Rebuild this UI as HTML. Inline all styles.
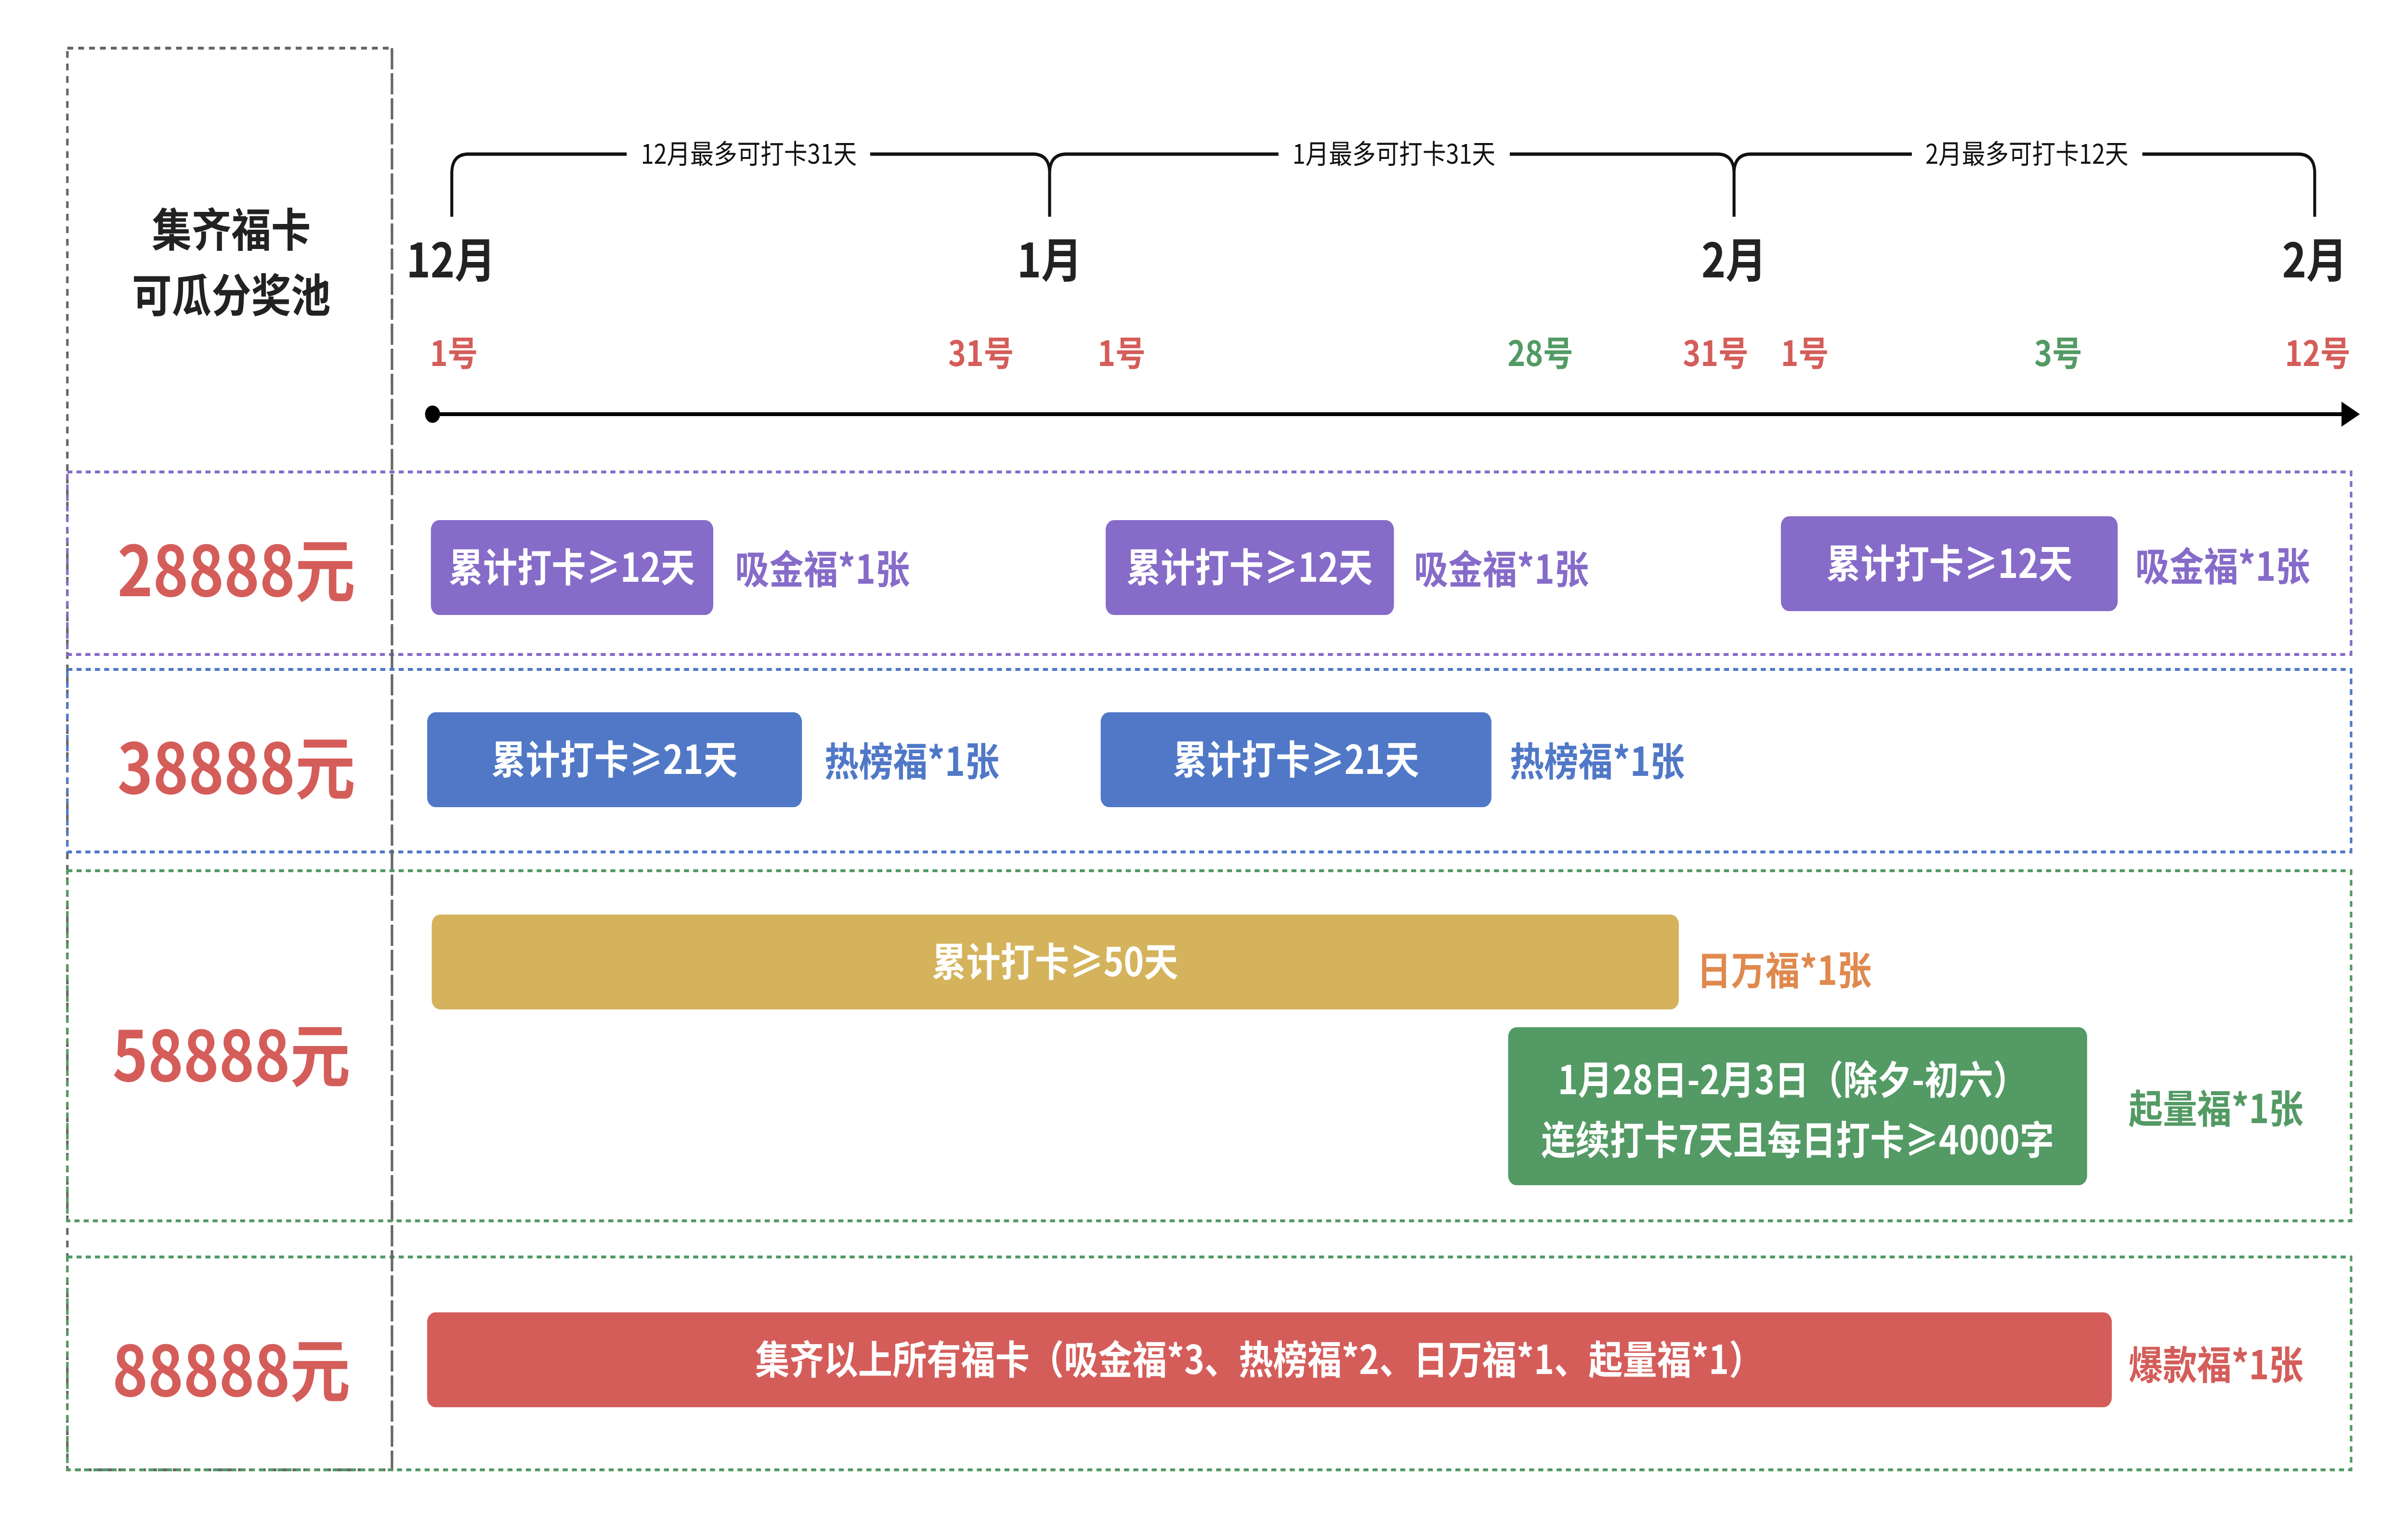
<!DOCTYPE html>
<html><head><meta charset="utf-8"><style>
html,body{margin:0;padding:0;background:#fff;width:100%;height:100%;overflow:hidden;}
svg{display:block;width:100vw;height:100vh;}
text{font-family:"Noto Sans CJK SC","Liberation Sans",sans-serif;}
.b{font-weight:bold;}
</style></head><body>
<svg viewBox="0 0 5756 3152" preserveAspectRatio="none" xmlns="http://www.w3.org/2000/svg">
<rect width="5756" height="3152" fill="#fff"/>
<rect x="161" y="100" width="776" height="2952" fill="none" stroke="#666" stroke-width="6" stroke-dasharray="14 12"/>
<rect x="161" y="980" width="5459" height="379" fill="none" stroke="#866bc9" stroke-width="6" stroke-dasharray="12 10"/>
<rect x="161" y="1390" width="5459" height="379" fill="none" stroke="#5078c7" stroke-width="6" stroke-dasharray="12 10"/>
<rect x="161" y="1808" width="5459" height="727" fill="none" stroke="#539a64" stroke-width="6" stroke-dasharray="12 10"/>
<rect x="161" y="2610" width="5459" height="442" fill="none" stroke="#539a64" stroke-width="6" stroke-dasharray="12 10"/>
<line x1="937" y1="100" x2="937" y2="3052" stroke="#666" stroke-width="6" stroke-dasharray="30 22"/>

<text x="553" y="512" class="b" font-size="95" fill="#222" text-anchor="middle">集齐福卡</text>
<text x="553" y="648" class="b" font-size="95" fill="#222" text-anchor="middle">可瓜分奖池</text>

<g fill="none" stroke="#111" stroke-width="7">
<path d="M1080 450 V360 Q1080 320 1120 320 H1498"/>
<path d="M2080 320 H2469 Q2509 320 2509 360 V450"/>
<path d="M2509 450 V360 Q2509 320 2549 320 H3056"/>
<path d="M3609 320 H4105 Q4145 320 4145 360 V450"/>
<path d="M4145 450 V360 Q4145 320 4185 320 H4570"/>
<path d="M5121 320 H5493 Q5533 320 5533 360 V450"/>
</g>
<text x="1790" y="340" font-size="56" fill="#111" text-anchor="middle">12月最多可打卡31天</text>
<text x="3332" y="340" font-size="56" fill="#111" text-anchor="middle">1月最多可打卡31天</text>
<text x="4845" y="340" font-size="56" fill="#111" text-anchor="middle">2月最多可打卡12天</text>

<g class="b" font-size="98" fill="#222" text-anchor="middle">
<text x="1078" y="576">12月</text>
<text x="2509" y="576">1月</text>
<text x="4145" y="576">2月</text>
<text x="5533" y="576">2月</text>
</g>
<g class="b" font-size="72" text-anchor="middle">
<text x="1085" y="760" fill="#d45d5a">1号</text>
<text x="2345" y="760" fill="#d45d5a">31号</text>
<text x="2681" y="760" fill="#d45d5a">1号</text>
<text x="3682" y="760" fill="#539a64">28号</text>
<text x="4101" y="760" fill="#d45d5a">31号</text>
<text x="4314" y="760" fill="#d45d5a">1号</text>
<text x="4920" y="760" fill="#539a64">3号</text>
<text x="5540" y="760" fill="#d45d5a">12号</text>
</g>
<line x1="1030" y1="860" x2="5600" y2="860" stroke="#000" stroke-width="8"/>
<circle cx="1034" cy="860" r="18" fill="#000"/>
<polygon points="5597,834 5641,860 5597,886" fill="#000"/>

<g class="b" font-size="144" fill="#d45d5a" text-anchor="middle">
<text x="565" y="1238">28888元</text>
<text x="565" y="1648">38888元</text>
<text x="553" y="2245">58888元</text>
<text x="553" y="2899">88888元</text>
</g>

<g fill="#866bc9">
<rect x="1030" y="1080" width="675" height="197" rx="20"/>
<rect x="2643" y="1080" width="689" height="197" rx="20"/>
<rect x="4257" y="1072" width="805" height="197" rx="20"/>
</g>
<g class="b" font-size="82" fill="#fff" text-anchor="middle">
<text x="1367" y="1208">累计打卡≥12天</text>
<text x="2987" y="1208">累计打卡≥12天</text>
<text x="4660" y="1200">累计打卡≥12天</text>
</g>
<g class="b" font-size="82" fill="#866bc9">
<text x="1757" y="1212">吸金福*1张</text>
<text x="3380" y="1212">吸金福*1张</text>
<text x="5104" y="1206">吸金福*1张</text>
</g>
<g fill="#5078c7">
<rect x="1021" y="1479" width="896" height="197" rx="20"/>
<rect x="2631" y="1479" width="934" height="197" rx="20"/>
</g>
<g class="b" font-size="82" fill="#fff" text-anchor="middle">
<text x="1469" y="1607">累计打卡≥21天</text>
<text x="3098" y="1607">累计打卡≥21天</text>
</g>
<g class="b" font-size="82" fill="#5078c7">
<text x="1971" y="1611">热榜福*1张</text>
<text x="3609" y="1611">热榜福*1张</text>
</g>
<rect x="1032" y="1899" width="2981" height="197" rx="20" fill="#d4b35c"/>
<text x="2522" y="2027" class="b" font-size="82" fill="#fff" text-anchor="middle">累计打卡≥50天</text>
<text x="4056" y="2045" class="b" font-size="82" fill="#e0894e">日万福*1张</text>
<rect x="3605" y="2133" width="1384" height="328" rx="20" fill="#539a64"/>
<text x="4285" y="2272" class="b" font-size="82" fill="#fff" text-anchor="middle">1月28日-2月3日（除夕-初六）</text>
<text x="4297" y="2397" class="b" font-size="82" fill="#fff" text-anchor="middle">连续打卡7天且每日打卡≥4000字</text>
<text x="5088" y="2332" class="b" font-size="82" fill="#539a64">起量福*1张</text>
<rect x="1021" y="2725" width="4027" height="197" rx="20" fill="#d45d5a"/>
<text x="3010" y="2853" class="b" font-size="82" fill="#fff" text-anchor="middle">集齐以上所有福卡（吸金福*3、热榜福*2、日万福*1、起量福*1）</text>
<text x="5088" y="2864" class="b" font-size="82" fill="#d45d5a">爆款福*1张</text>
</svg>
</body></html>
